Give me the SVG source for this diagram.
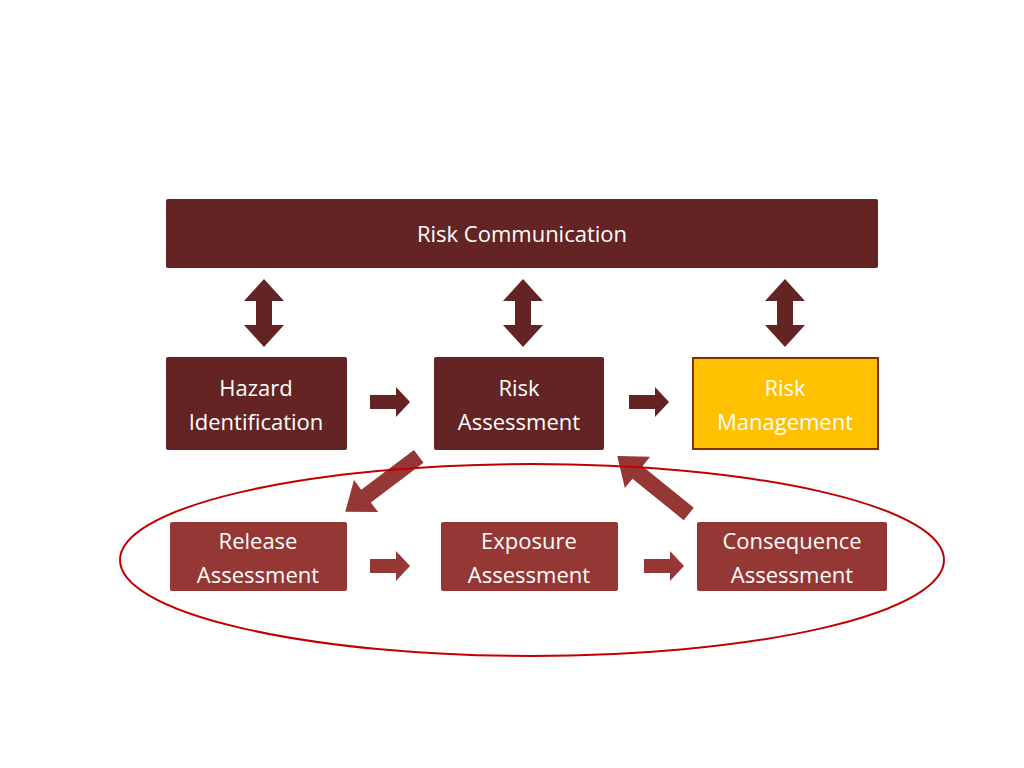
<svg xmlns="http://www.w3.org/2000/svg" width="1024" height="768" viewBox="0 0 1024 768">
<style>
.d{fill:#632423}.l{fill:#953735}
text{font-family:"Open Sans","Liberation Sans",sans-serif;font-size:22px;fill:#fff;text-anchor:middle}
</style>
<defs>
<path id="dbl" d="M0,-34 L20,-12 L8,-12 L8,12 L20,12 L0,34 L-20,12 L-8,12 L-8,-12 L-20,-12 Z"/>
<path id="rt" d="M-20,-7 L6,-7 L6,-15 L20,0 L6,15 L6,7 L-20,7 Z"/>
<path id="diag" d="M-46,-8 L20,-8 L20,-20 L46,0 L20,20 L20,8 L-46,8 Z"/>
</defs>
<rect width="1024" height="768" fill="#fff"/>
<g id="connectors">
<use href="#dbl" x="264" y="313" class="d"/>
<use href="#dbl" x="523" y="313" class="d"/>
<use href="#dbl" x="785" y="313" class="d"/>
<use href="#rt" x="390" y="402" class="d"/>
<use href="#rt" x="649" y="402" class="d"/>
<use href="#rt" x="390" y="566" class="l"/>
<use href="#rt" x="664" y="566" class="l"/>
<use href="#diag" transform="translate(382,484) rotate(143)" class="l"/>
<use href="#diag" transform="translate(653,485) rotate(-141)" class="l"/>
<ellipse cx="532" cy="560" rx="412" ry="96" fill="none" stroke="#c00000" stroke-width="2"/>
</g>
<g id="comm"><rect x="166" y="199" width="712" height="69" rx="2" class="d"/><text x="522" y="242">Risk Communication</text></g>
<g id="hazard"><rect x="166" y="357" width="181" height="93" rx="2" class="d"/><text x="256" y="396">Hazard</text><text x="256" y="430">Identification</text></g>
<g id="assess"><rect x="434" y="357" width="170" height="93" rx="2" class="d"/><text x="519" y="396">Risk</text><text x="519" y="430">Assessment</text></g>
<g id="mgmt"><rect x="693" y="358" width="185" height="91" fill="#ffc000" stroke="#7f3300" stroke-width="2"/><text x="785" y="396">Risk</text><text x="785" y="430">Management</text></g>
<g id="release"><rect x="170" y="522" width="177" height="69" rx="2" class="l"/><text x="258" y="549">Release</text><text x="258" y="583">Assessment</text></g>
<g id="exposure"><rect x="441" y="522" width="177" height="69" rx="2" class="l"/><text x="529" y="549">Exposure</text><text x="529" y="583">Assessment</text></g>
<g id="consequence"><rect x="697" y="522" width="190" height="69" rx="2" class="l"/><text x="792" y="549">Consequence</text><text x="792" y="583">Assessment</text></g>
</svg>
